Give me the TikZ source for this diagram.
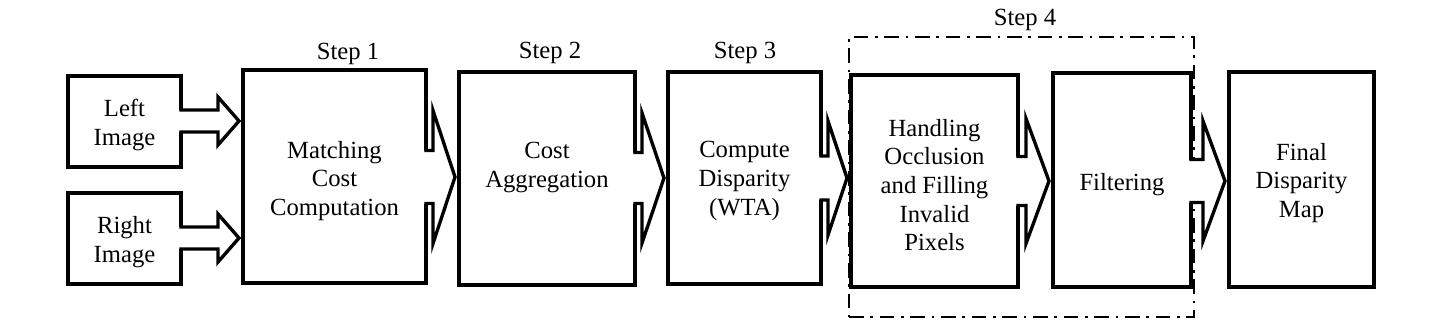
\documentclass[tikz,border=0pt]{standalone}
\usepackage{fontspec}
\setmainfont{Liberation Serif}
\usetikzlibrary{fit,calc}
\newcommand\dfont{\fontsize{18.5}{21.5}\selectfont}
% #1 source, #2 target, #3 centre y, #4 half shaft, #5 shaft length, #6 half head
\newcommand\blockarr[6]{%
  \fill[white] ($(#1.east |- 0,#3)+(-3.5,-#4)$) rectangle ($(#1.east |- 0,#3)+(#5,#4)$);
  \filldraw[arrline] ($(#1.east |- 0,#3)+(-1.7,-#4)$) -- ++(1.7+#5,0) -- ++(0,#4-#6)
    -- ($(#2.west |- 0,#3)+(-4,0)$) -- ($(#1.east |- 0,#3)+(#5,#6)$) -- ++(0,#4-#6) -- ++(-#5-1.7,0);}
\begin{document}
\begin{tikzpicture}[x=0.75pt,y=-0.75pt,
  box/.style={draw, line width=2.5pt, inner sep=0pt, outer sep=0pt},
  btext/.style={font=\dfont, align=center, inner sep=0pt},
  arrline/.style={line width=2.5pt, fill=white},
  dashbox/.style={draw, line width=2pt, inner sep=0pt, outer sep=0pt, dash pattern=on 11pt off 5pt on 2pt off 5pt},
  steplbl/.style={font=\dfont, anchor=base, inner sep=0pt}]
\useasboundingbox (0,0) rectangle (1429,319);
\fill[white] (0,0) rectangle (1429,319);
\node[dashbox, fit={(849,37) (1194,317)}] (s4box) {};
\node[box, fit={(68,76) (181,167)}] (left) {};
\node[box, fit={(68,193) (181,284)}] (right) {};
\node[box, fit={(243,70) (426,283)}] (s1) {};
\node[box, fit={(459,72) (635,285)}] (s2) {};
\node[box, fit={(668,72) (821,284)}] (s3) {};
\node[box, fit={(851,75) (1018,287)}] (hand) {};
\node[box, fit={(1053,73) (1191,287)}] (filt) {};
\node[box, fit={(1229,72) (1374,287)}] (final) {};
\node[btext] (leftt) at ($(left.center)+(0,3.5)$) {Left\\Image};
\node[btext] (rightt) at ($(right.center)+(0,3.5)$) {Right\\Image};
\node[btext] (s1t) at ($(s1.center)+(0,4.5)$) {Matching\\Cost\\Computation};
\node[btext] (s2t) at ($(s2.center)+(0,-11)$) {Cost\\Aggregation};
\node[btext] (s3t) at ($(s3.center)+(0,3)$) {Compute\\Disparity\\(WTA)};
\node[btext] (handt) at ($(hand.center)+(0,4)$) {Handling\\Occlusion\\and Filling\\Invalid\\Pixels};
\node[btext] (filtt) at ($(filt.center)+(0,5)$) {Filtering};
\node[btext] (finalt) at ($(final.center)+(0,3.5)$) {Final\\Disparity\\Map};
\node[steplbl] (l1) at (348,59) {Step 1};
\node[steplbl] (l2) at (550,58) {Step 2};
\node[steplbl] (l3) at (745,58) {Step 3};
\node[steplbl] (l4) at (1025,25) {Step 4};
\blockarr{left}{s1}{121}{11}{37}{24}
\blockarr{right}{s1}{238}{11}{37}{24}
\blockarr{s1}{s2}{177}{26.5}{7}{66.5}
\blockarr{s2}{s3}{178}{25.5}{7}{65}
\blockarr{s3}{hand}{178}{22}{7}{57}
\blockarr{hand}{filt}{181}{24.5}{8}{62.5}
\blockarr{filt}{final}{181}{21.5}{12}{60}
\end{tikzpicture}
\end{document}
